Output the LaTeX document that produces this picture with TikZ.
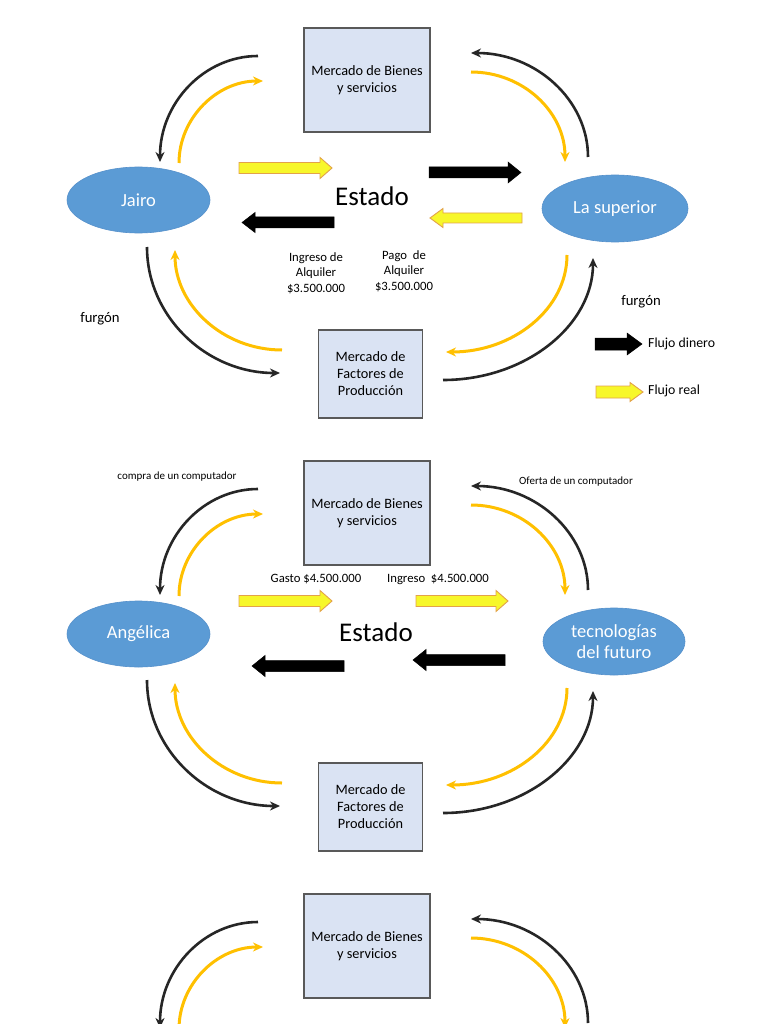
\documentclass[tikz,border=0pt]{standalone}
\usepackage{fontspec}
\setmainfont{Carlito}
\usetikzlibrary{shapes.geometric,arrows.meta}
\definecolor{boxfill}{HTML}{DAE3F3}
\definecolor{boxline}{HTML}{595959}
\definecolor{ellfill}{HTML}{5B9BD5}
\definecolor{elline}{HTML}{5590CB}
\definecolor{gold}{HTML}{FFC000}
\definecolor{darkline}{HTML}{262626}
\definecolor{arryel}{HTML}{F7F72A}
\definecolor{arrorange}{HTML}{E3A24A}
\tikzset{
  mbox/.style={draw=boxline, line width=1.3pt, fill=boxfill, align=center,
    font=\fontsize{14.3}{17}\selectfont, inner sep=0pt},
  agent/.style={ellipse, fill=ellfill, draw=elline, line width=0.6pt, text=white,
    align=center, font=\fontsize{18.5}{21}\selectfont, minimum width=143pt,
    minimum height=66pt, inner sep=0pt},
  money/.style={draw=darkline, line width=2.6pt, -{Stealth[length=10pt,width=9pt]}},
  real/.style={draw=gold, line width=3pt, -{Stealth[length=10pt,width=9pt]}},
  lbl/.style={align=center, font=\fontsize{12.7}{15.5}\selectfont, inner sep=0pt},
  small/.style={align=center, font=\fontsize{11}{13}\selectfont, inner sep=0pt},
  mid/.style={align=center, font=\fontsize{14.7}{17}\selectfont, inner sep=0pt},
  big/.style={font=\fontsize{27}{30}\selectfont, inner sep=0pt},
  blkarr/.style={fill=black, draw=black, line width=0.5pt},
  yelarr/.style={fill=arryel, draw=arrorange, line width=0.9pt},
  pics/barrow/.style args={#1/#2/#3/#4/#5}{code={
    \path[#5] (0,-#2) -- ({#1-#4},-#2) -- ({#1-#4},-#3) -- (#1,0) -- ({#1-#4},#3)
      -- ({#1-#4},#2) -- (0,#2) -- cycle;}}
}
\newcommand\cycletop[1]{%
  \node[mbox, minimum width=126pt, minimum height=104pt] (bienes#1) at (367,80) {Mercado de Bienes\\y servicios};
  \coordinate (lbA#1) at (258,56);  \coordinate (lbB#1) at (160,162);
  \coordinate (lyA#1) at (179,163); \coordinate (lyB#1) at (263,81);
  \coordinate (rbA#1) at (588,157); \coordinate (rbB#1) at (471,53);
  \coordinate (ryA#1) at (471,72);  \coordinate (ryB#1) at (565,162);
  \draw[money] (lbA#1) .. controls (204,56) and (160,103) .. (lbB#1);
  \draw[real] (lyA#1) .. controls (179,118) and (217,81) .. (lyB#1);
  \draw[money] (rbA#1) .. controls (588,100) and (536,53) .. (rbB#1);
  \draw[real] (ryA#1) .. controls (523,72) and (565,112) .. (ryB#1);
}
\newcommand\cyclebottom[1]{%
  \node[mbox, minimum width=104pt, minimum height=88pt] (factores#1) at (370.5,374) {Mercado de\\Factores de\\Producción};
  \coordinate (dlbA#1) at (147,247); \coordinate (dlbB#1) at (280,373);
  \coordinate (dlyA#1) at (282,350); \coordinate (dlyB#1) at (175,250);
  \coordinate (dryA#1) at (567,255); \coordinate (dryB#1) at (446,352);
  \coordinate (drbA#1) at (443,380); \coordinate (drbB#1) at (593,258);
  \draw[money] (dlbA#1) .. controls (147,317) and (207,373) .. (dlbB#1);
  \draw[real] (dlyA#1) .. controls (223,350) and (175,305) .. (dlyB#1);
  \draw[real] (dryA#1) .. controls (567,309) and (513,352) .. (dryB#1);
  \draw[money] (drbA#1) .. controls (526,380) and (593,325) .. (drbB#1);
}
\begin{document}
\begin{tikzpicture}[x=1pt,y=-1pt]
\useasboundingbox (0,0) rectangle (768,1024);
\clip (0,0) rectangle (768,1024);
\fill[white] (0,0) rectangle (768,1024);

% ---------- diagram 1 ----------
\cycletop{1}
\cyclebottom{1}
\node[agent] (jairo) at (138.5,200) {Jairo};
\node[agent, minimum width=146pt, minimum height=67pt] (lasup) at (615,208.5) {La superior};
\node[big] (estado1) at (372,196) {Estado};
\pic at (239,168) {barrow=93/5.5/10.5/12/yelarr};
\pic at (429,172.5) {barrow=92/5.5/10.5/13/blkarr};
\pic[rotate=180] at (334,222.5) {barrow=92/5.5/10/13/blkarr};
\pic[rotate=180] at (522,218) {barrow=92/5/9.5/13/yelarr};
\node[lbl] (ingreso1) at (316,273) {Ingreso de\\Alquiler\\\$3.500.000};
\node[lbl] (pago1) at (404,271) {Pago~ de\\Alquiler\\\$3.500.000};
\node[mid] (furgon1) at (100,319) {furgón};
\node[mid] (furgon2) at (641,302) {furgón};
\pic at (595,344) {barrow=47/6/11/15/blkarr};
\pic at (596,392) {barrow=47/6/9.5/13/yelarr};
\node[mid, anchor=west, font=\fontsize{13.8}{16}\selectfont] (legdin) at (648,344) {Flujo dinero};
\node[mid, anchor=west, font=\fontsize{13.8}{16}\selectfont] (legreal) at (648,391) {Flujo real};

% ---------- diagram 2 ----------
\begin{scope}[shift={(0,433)}]
\cycletop{2}
\cyclebottom{2}
\node[agent] (angelica) at (138.5,201) {Angélica};
\node[agent, minimum width=142pt, minimum height=67pt] (tecno) at (614,208.5) {tecnologías\\del futuro};
\node[big] (estado2) at (376,199) {Estado};
\pic at (239,168) {barrow=93/5.5/10.5/12/yelarr};
\pic at (416,168) {barrow=92/5.5/10.5/12/yelarr};
\pic[rotate=180] at (344,233) {barrow=92/5.5/10.5/13/blkarr};
\pic[rotate=180] at (505,227) {barrow=92/5.5/10.5/13/blkarr};
\node[lbl] (gasto) at (316,146) {Gasto \$4.500.000};
\node[lbl] (ingreso2) at (438,146) {Ingreso~ \$4.500.000};
\node[small] (compra) at (177,44) {compra de un computador};
\node[small] (oferta) at (576,49) {Oferta de un computador};
\end{scope}

% ---------- diagram 3 (cut off by the page) ----------
\begin{scope}[shift={(0,866)}]
\cycletop{3}
\end{scope}
\end{tikzpicture}
\end{document}
